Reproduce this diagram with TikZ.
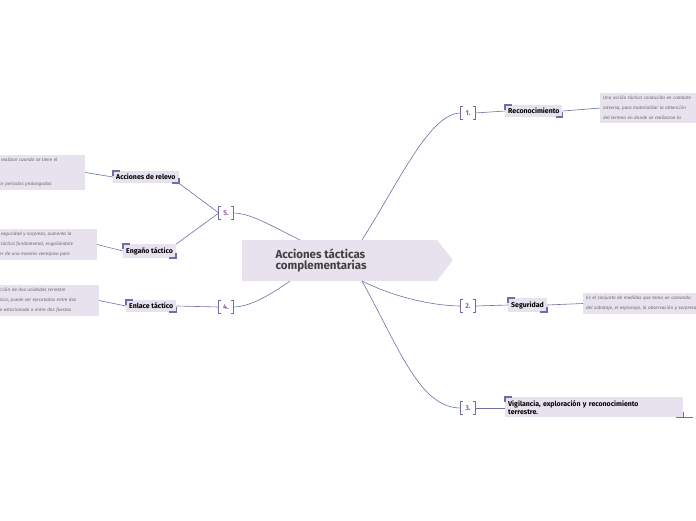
\documentclass[tikz,border=0pt]{standalone}
\usepackage{fontspec}
\setmainfont{Fira Sans}
\begin{document}
\begin{tikzpicture}[x=1pt,y=-1pt,
  lk/.style={draw=lnc,line width=0.6pt},
  desc/.style={fill=boxc,inner sep=3pt,align=left,anchor=north west,font=\fontsize{4.6}{10}\selectfont\itshape\color{gray!80!black}},
  topic/.style={fill=boxc,inner sep=3pt,font=\fontsize{7}{8}\selectfont\bfseries,align=left},
  num/.style={font=\fontsize{7}{8}\selectfont\bfseries\color{numc},inner sep=2pt,minimum width=14pt,minimum height=13pt}]
\definecolor{boxc}{HTML}{E8E2EE}
\definecolor{lnc}{HTML}{6F6FA8}
\definecolor{numc}{HTML}{9A5A9E}
\useasboundingbox (0,0) rectangle (696,520);
\clip (0,0) rectangle (696,520);
% central
\fill[boxc] (242,240) -- (437,240) -- (453,260) -- (437,281) -- (242,281) -- cycle;
\node[font=\fontsize{11.5}{11.5}\selectfont\bfseries,align=left,anchor=west,text=black!75] (c) at (272,260.5) {Acciones tácticas\\complementarias};
\coordinate (cT) at (362,240); \coordinate (cB) at (362,281);
\coordinate (cLT) at (300,240); \coordinate (cLB) at (290,281);
% numbers
\node[num] (n1) at (468,113) {1.};
\node[num] (n2) at (468,306) {2.};
\node[num] (n3) at (468,408) {3.};
\node[num] (n5) at (226,213) {5.};
\node[num] (n4) at (226,307) {4.};
\foreach \n in {n1,n2,n3,n4,n5}{
  \draw[lnc,line width=0.8pt] ([xshift=2pt]\n.north west) -- (\n.north west) -- (\n.south west) -- ([xshift=2pt]\n.south west);
  \draw[lnc,line width=0.8pt] ([xshift=-2pt]\n.north east) -- (\n.north east) -- (\n.south east) -- ([xshift=-2pt]\n.south east);}
% topics
\node[topic,anchor=west] (t1) at (505,111) {Reconocimiento};
\node[topic,anchor=west] (t2) at (508,305) {Seguridad};
\node[topic,anchor=north west,text width=172pt] (t3) at (505,397) {Vigilancia, exploración y reconocimiento\\terrestre.};
\node[topic,anchor=west] (t5) at (113,177) {Acciones de relevo};
\node[topic,anchor=west] (t6) at (123,251) {Engaño táctico};
\node[topic,anchor=west] (t4) at (126,306) {Enlace táctico};
\foreach \t in {t1,t2,t3,t4,t5,t6}{
  \draw[lnc,line width=1.6pt] ([yshift=-5pt]\t.north west) -- (\t.north west) -- ([xshift=7pt]\t.north west);
  \draw[lnc,line width=1.6pt] ([yshift=5pt]\t.south east) -- (\t.south east) -- ([xshift=-7pt]\t.south east);}
% descriptions
\node[desc,text width=110pt] (d1) at (600,93) {Una acción táctica conducida en combate\\adversa, para materializar la obtención\\del terreno en donde se realizaron la};
\node[desc,text width=130pt] (d2) at (583,293) {Es el conjunto de medidas que toma un comando\\del sabotaje, el espionaje, la observación y sorpresa};
\node[desc,text width=85pt,anchor=north east] (d5) at (85,155) {n realizan cuando se tiene el\\[14pt] por periodos prolongados};
\node[desc,text width=97pt,anchor=north east] (d6) at (97,229) {n seguridad y sorpresa, aumenta la\\n táctica fundamental, engañándole\\ner de una manera ventajosa para};
\node[desc,text width=99pt,anchor=north east] (d4) at (99,285) {acción de dos unidades terrestre\\físico; puede ser ejecutadas entre dos\\tre estacionada o entre dos fuerzas};
% connectors
\draw[lk] (cT) .. controls (400,180) and (430,113) .. (n1.west);
\draw[lk] (cB) .. controls (400,300) and (440,306) .. (n2.west);
\draw[lk] (cB) .. controls (400,350) and (420,408) .. (n3.west);
\draw[lk] (cLT) .. controls (270,225) and (250,213) .. (n5.east);
\draw[lk] (cLB) .. controls (270,295) and (250,307) .. (n4.east);
\draw[lk] (n1.east) -- (t1.west);
\draw[lk] (n2.east) -- (t2.west);
\draw[lk] (n3.east) -- (t3.west |- n3.east);
\draw[lk] (n4.west) -- (t4.east);
\draw[lk] (n5.west) -- (t5.south east);
\draw[lk] (n5.west) -- (t6.north east);
\draw[lk] (t1.east) -- (d1.west);
\draw[lk] (t2.east) -- (d2.west);
\draw[lk] (t3.south east) -- ++(10,0);
\draw[lk] (t5.west) -- (d5.east);
\draw[lk] (t6.west) -- (d6.east);
\draw[lk] (t4.west) -- (d4.east);
\end{tikzpicture}
\end{document}
